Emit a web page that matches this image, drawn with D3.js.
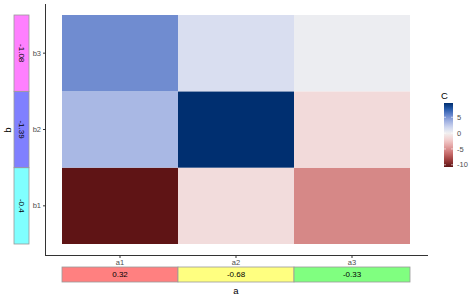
<!DOCTYPE html>
<html>
<head>
<meta charset="utf-8">
<script src="https://cdn.jsdelivr.net/npm/d3@7"></script>
<style>
  body { margin: 0; background: #fff; }
  text { font-family: "Liberation Sans", Arial, sans-serif; }
</style>
</head>
<body>
<div id="chart"></div>
<script>
// data
var aCats = ["a1", "a2", "a3"];
var bCats = ["b1", "b2", "b3"];
// C values, one row per b level (b1, b2, b3), columns a1..a3
var cB1 = [-10.7, -1.3, -5.3];
var cB2 = [3.4, 9.5, -1.4];
var cB3 = [5.4, 1.3, 0.3];
var aAnno = [0.32, -0.68, -0.33];
var aAnnoColors = ["#FF8080", "#FFFF80", "#80FF80"];
var bAnno = [-0.4, -1.39, -1.08];
var bAnnoColors = ["#80FFFF", "#8080FF", "#FF80FF"];
var legendTicks = [5, 0, -5, -10];

var cells = [];
[cB1, cB2, cB3].forEach(function (row, i) {
  row.forEach(function (v, j) {
    cells.push({ a: aCats[j], b: bCats[i], c: v });
  });
});

// polarLUV -> sRGB hex
function hclLuv(h, c, l) {
  var Xn = 95.047, Yn = 100, Zn = 108.883;
  var un = 4 * Xn / (Xn + 15 * Yn + 3 * Zn), vn = 9 * Yn / (Xn + 15 * Yn + 3 * Zn);
  var Y = l > 8 ? Yn * Math.pow((l + 16) / 116, 3) : Yn * l / 903.3;
  var u = c * Math.cos(h * Math.PI / 180), v = c * Math.sin(h * Math.PI / 180);
  var up = u / (13 * l) + un, vp = v / (13 * l) + vn;
  var X = 9 * Y * up / (4 * vp);
  var Z = Y * (12 - 3 * up - 20 * vp) / (4 * vp);
  X /= 100; Y /= 100; Z /= 100;
  var r = 3.240479 * X - 1.53715 * Y - 0.498535 * Z;
  var g = -0.969256 * X + 1.875992 * Y + 0.041556 * Z;
  var b = 0.055648 * X - 0.204043 * Y + 1.057311 * Z;
  function gam(t) {
    t = t <= 0.0031308 ? 12.92 * t : 1.055 * Math.pow(t, 1 / 2.4) - 0.055;
    return Math.round(255 * Math.max(0, Math.min(1, t)));
  }
  return d3.rgb(gam(r), gam(g), gam(b)).formatHex();
}

// diverging hcl palette (blue-red, trapezoid chroma), red for low values
function divergePal(n) {
  var c1 = 50, cmax = 80, l1 = 20, l2 = 95, p1 = 1, p2 = 1.3;
  var j = 1 / (1 + Math.abs(cmax - c1) / cmax);
  var out = [];
  for (var k = 0; k < n; k++) {
    var i = -1 + 2 * k / (n - 1);
    var t = Math.abs(i);
    var C = t <= j ? cmax * Math.pow(t / j, p1)
      : cmax - (cmax - c1) * Math.pow((t - j) / (1 - j), p1);
    var L = l2 - (l2 - l1) * Math.pow(t, p2);
    out.push(hclLuv(i > 0 ? 255 : 12, C, L));
  }
  return out;
}

var W = 474, H = 299;
var svg = d3.select("#chart").append("svg")
  .attr("width", W).attr("height", H);

var x = d3.scaleBand().domain(aCats).range([62, 410]);
var y = d3.scaleBand().domain(bCats).range([244, 15]);

var cMin = d3.min(cells, function (d) { return d.c; });
var cMax = d3.max(cells, function (d) { return d.c; });
var nPal = 11;
var pal = divergePal(nPal);
var half = (nPal - 1) / 2;
var color = d3.scaleLinear()
  .domain(d3.range(nPal).map(function (k) {
    return k < half ? cMin * (half - k) / half : cMax * (k - half) / half;
  }))
  .range(pal)
  .interpolate(d3.interpolateLab);

// tiles
svg.selectAll("rect.tile")
  .data(cells)
  .enter()
  .append("rect")
  .attr("class", "tile")
  .attr("x", function (d) { return x(d.a); })
  .attr("y", function (d) { return y(d.b); })
  .attr("width", x.bandwidth())
  .attr("height", y.bandwidth())
  .attr("fill", function (d) { return color(d.c); });

// axes lines
var axisCol = "#333333";
svg.append("line")
  .attr("x1", 45.5).attr("x2", 45.5).attr("y1", 4).attr("y2", 255.5)
  .attr("stroke", axisCol).attr("stroke-width", 1);
svg.append("line")
  .attr("x1", 45).attr("x2", 428).attr("y1", 255.5).attr("y2", 255.5)
  .attr("stroke", axisCol).attr("stroke-width", 1);

// x ticks
var xt = svg.selectAll("g.xt").data(aCats).enter().append("g")
  .attr("transform", function (d) { return "translate(" + (x(d) + x.bandwidth() / 2) + ",0)"; });
xt.append("line").attr("y1", 255.5).attr("y2", 258).attr("stroke", axisCol);
xt.append("text").attr("y", 265).attr("text-anchor", "middle")
  .attr("font-size", 7.5).attr("fill", "#4D4D4D").text(function (d) { return d; });

// y ticks
var yt = svg.selectAll("g.yt").data(bCats).enter().append("g")
  .attr("transform", function (d) { return "translate(0," + (y(d) + y.bandwidth() / 2) + ")"; });
yt.append("line").attr("x1", 43).attr("x2", 45.5).attr("stroke", axisCol);
yt.append("text").attr("x", 41).attr("dy", "0.35em").attr("text-anchor", "end")
  .attr("font-size", 7.5).attr("fill", "#4D4D4D").text(function (d) { return d; });

// bottom annotation
var ba = svg.selectAll("g.ba").data(aCats).enter().append("g");
ba.append("rect")
  .attr("x", function (d) { return x(d); })
  .attr("y", 267).attr("width", x.bandwidth()).attr("height", 15)
  .attr("fill", function (d, i) { return aAnnoColors[i]; })
  .attr("stroke", "#999999").attr("stroke-width", 0.8);
ba.append("text")
  .attr("x", function (d) { return x(d) + x.bandwidth() / 2; })
  .attr("y", 274.5).attr("dy", "0.35em").attr("text-anchor", "middle")
  .attr("font-size", 8).attr("fill", "#000")
  .text(function (d, i) { return aAnno[i]; });

// left annotation
var la = svg.selectAll("g.la").data(bCats).enter().append("g");
la.append("rect")
  .attr("x", 14).attr("y", function (d) { return y(d); })
  .attr("width", 15).attr("height", y.bandwidth())
  .attr("fill", function (d, i) { return bAnnoColors[i]; })
  .attr("stroke", "#999999").attr("stroke-width", 0.8);
la.append("text")
  .attr("transform", function (d) { return "translate(21.5," + (y(d) + y.bandwidth() / 2) + ") rotate(90)"; })
  .attr("dy", "0.35em").attr("text-anchor", "middle")
  .attr("font-size", 8).attr("fill", "#000")
  .text(function (d, i) { return bAnno[i]; });

// axis titles
svg.append("text").attr("x", 236).attr("y", 294).attr("text-anchor", "middle")
  .attr("font-size", 9.5).attr("fill", "#000").text("a");
svg.append("text").attr("transform", "translate(8,130) rotate(-90)")
  .attr("dy", "0.35em").attr("text-anchor", "middle")
  .attr("font-size", 9.5).attr("fill", "#000").text("b");

// legend
var ly = d3.scaleLinear().domain([cMin, cMax]).range([167, 103]);
var defs = svg.append("defs");
var grad = defs.append("linearGradient").attr("id", "cgrad")
  .attr("x1", 0).attr("x2", 0).attr("y1", 1).attr("y2", 0);
d3.range(0, 41).forEach(function (i) {
  var t = i / 40;
  grad.append("stop").attr("offset", t)
    .attr("stop-color", color(cMin + t * (cMax - cMin)));
});
svg.append("rect").attr("x", 444).attr("y", 103).attr("width", 9).attr("height", 64)
  .attr("fill", "url(#cgrad)");
var lt = svg.selectAll("g.lt").data(legendTicks).enter().append("g")
  .attr("transform", function (d) { return "translate(0," + ly(d) + ")"; });
lt.append("line").attr("x1", 444).attr("x2", 446).attr("stroke", "#fff").attr("stroke-width", 0.6);
lt.append("line").attr("x1", 451).attr("x2", 453).attr("stroke", "#fff").attr("stroke-width", 0.6);
lt.append("text").attr("x", 457).attr("dy", "0.35em")
  .attr("font-size", 7.5).attr("fill", "#4D4D4D").text(function (d) { return d; });
svg.append("text").attr("x", 441).attr("y", 99)
  .attr("font-size", 9.5).attr("fill", "#000").text("C");
</script>
</body>
</html>
